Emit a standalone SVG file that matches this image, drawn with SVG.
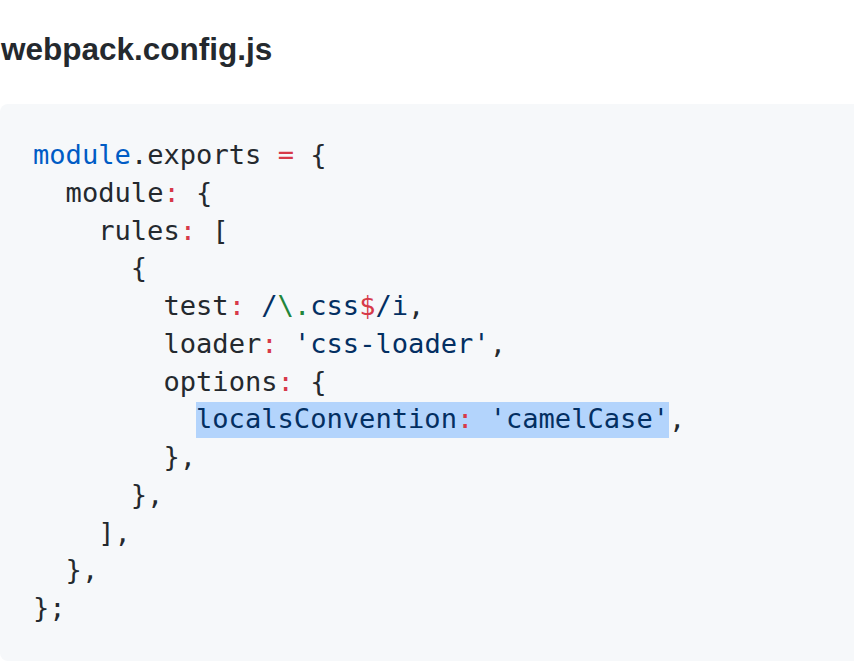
<svg xmlns="http://www.w3.org/2000/svg" width="854" height="666" viewBox="0 0 854 666">
<style>
.c{font-family:"DejaVu Sans Mono","Liberation Mono",monospace;font-size:27.1px;fill:#24292e;white-space:pre}
.b{fill:#005cc5}.r{fill:#d73a49}.n{fill:#032f62}.g{fill:#22863a}
</style>
<rect width="854" height="666" fill="#ffffff"/>
<text x="1" y="60" font-family="Liberation Sans, Arial, sans-serif" font-size="31.5" font-weight="bold" fill="#24292e">webpack.config.js</text>
<rect x="0" y="104" width="870" height="557" rx="8" fill="#f6f8fa"/>
<rect x="196" y="402" width="473" height="36" fill="#b3d4fc"/>
<g id="code" class="c">
<text class="c" x="33" y="164"><tspan class="b">module</tspan>.exports <tspan class="r">=</tspan> {</text>
<text class="c" x="65.6" y="202">module<tspan class="r">:</tspan> {</text>
<text class="c" x="98.2" y="240">rules<tspan class="r">:</tspan> [</text>
<text class="c" x="130.8" y="277">{</text>
<text class="c" x="163.4" y="315">test<tspan class="r">:</tspan> <tspan class="n">/</tspan><tspan class="g">\.</tspan><tspan class="n">css</tspan><tspan class="r">$</tspan><tspan class="n">/i</tspan>,</text>
<text class="c" x="163.4" y="353">loader<tspan class="r">:</tspan> <tspan class="n">'css-loader'</tspan>,</text>
<text class="c" x="163.4" y="391">options<tspan class="r">:</tspan> {</text>
<text class="c" x="196" y="428"><tspan class="n">localsConvention</tspan><tspan class="r">:</tspan> <tspan class="n">'camelCase'</tspan>,</text>
<text class="c" x="163.4" y="466">},</text>
<text class="c" x="130.8" y="504">},</text>
<text class="c" x="98.2" y="542">],</text>
<text class="c" x="65.6" y="579">},</text>
<text class="c" x="33" y="617">};</text>
</g>
</svg>
